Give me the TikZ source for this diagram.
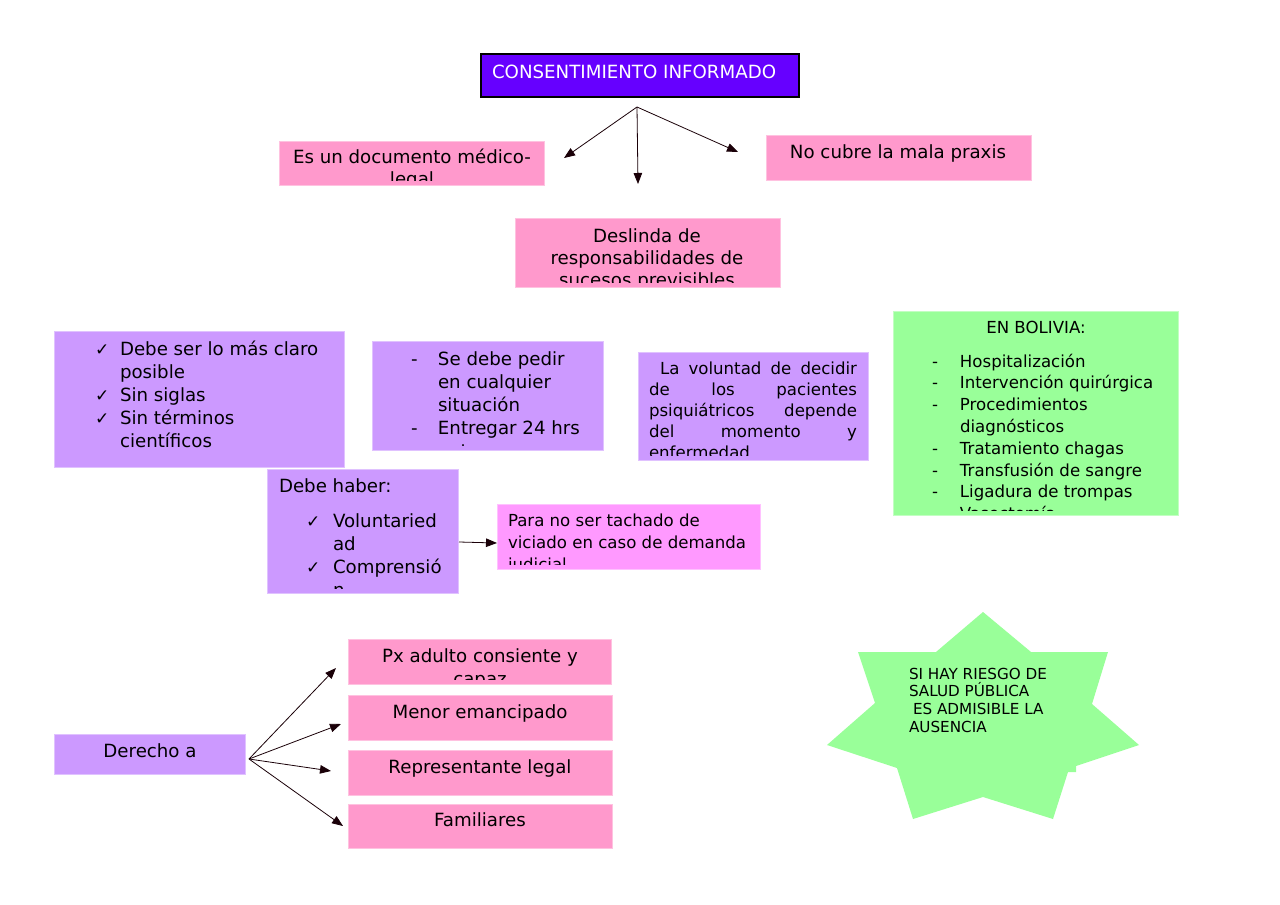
\documentclass[tikz,border=0pt]{standalone}
\usepackage{fontspec}
\setmainfont{DejaVu Sans}
\usetikzlibrary{arrows.meta}
\definecolor{titlecol}{HTML}{6600FF}
\definecolor{pinkc}{HTML}{FF99CC}
\definecolor{lilac}{HTML}{CC99FF}
\definecolor{magc}{HTML}{FF99FF}
\definecolor{greenc}{HTML}{99FF99}
\definecolor{arrcol}{HTML}{1A0008}
\newcommand{\FBig}{\fontsize{18.2}{22.7}\selectfont}
\newcommand{\FSmall}{\fontsize{16.6}{21.8}\selectfont}
\newcommand{\FStar}{\fontsize{15.2}{17.7}\selectfont}
\newcommand{\ck}{{\fontsize{17}{17}\selectfont ✓}}
\newcommand{\cliptext}[1]{\clip (#1.north west) rectangle ([yshift=5pt]#1.south east);}
\tikzset{
  boxc/.style={inner sep=0pt, outer sep=0pt, anchor=north west},
  pinkbox/.style={boxc, fill=pinkc, draw=pinkc!60!white, line width=0.8pt},
  lilacbox/.style={boxc, fill=lilac, draw=lilac!60!white, line width=0.8pt},
  magbox/.style={boxc, fill=magc, draw=magc!60!white, line width=0.8pt},
  greenbox/.style={boxc, fill=greenc, draw=greenc!60!white, line width=0.8pt},
  titlebox/.style={boxc, fill=titlecol, draw=black, line width=1.2pt},
  txt/.style={inner sep=0pt, outer sep=0pt, text=black},
  arr/.style={draw=arrcol, line width=0.8pt, -{Triangle[length=11pt,width=8.5pt]}},
}
\begin{document}
\begin{tikzpicture}[x=1pt,y=-1pt]
\useasboundingbox[fill=white] (0,0) rectangle (1280,905);

% ---------- title ----------
\node[titlebox, minimum width=318pt, minimum height=43pt] (title) at (481,54) {};
\node[txt, text=white, anchor=base west] (titleT) at (492,78) {\FBig CONSENTIMIENTO INFORMADO};

% ---------- first level ----------
\node[pinkbox, minimum width=265pt, minimum height=44pt] (doc) at (279,141) {};
\begin{scope}
\cliptext{doc}
\node[txt, anchor=base] (docT) at (412,163) {\parbox[t]{265pt}{\FBig\centering Es un documento médico-\\ legal}};
\end{scope}

\node[pinkbox, minimum width=265pt, minimum height=45pt] (nocubre) at (766,135) {};
\node[txt, anchor=base] (nocubreT) at (898,158) {\FBig No cubre la mala praxis};

\node[pinkbox, minimum width=265pt, minimum height=69pt] (deslinda) at (515,218) {};
\begin{scope}
\cliptext{deslinda}
\node[txt, anchor=base] (deslindaT) at (647,242) {\parbox[t]{265pt}{\FBig\baselineskip=22pt\centering Deslinda de\\ responsabilidades de\\ sucesos previsibles}};
\end{scope}

\coordinate (ci) at (637,107);
\coordinate (ciL) at (564,158);
\coordinate (ciM) at (638,184);
\coordinate (ciR) at (738,152);
\draw[arr] (ci) -- (ciL);
\draw[arr] (ci) -- (ciM);
\draw[arr] (ci) -- (ciR);

% ---------- middle row ----------
\node[lilacbox, minimum width=290pt, minimum height=136pt] (claro) at (54,331) {};
\begin{scope}
\cliptext{claro}
\node[txt, anchor=base west] (claroT) at (95,355) {\parbox[t]{240pt}{\FBig\baselineskip=23pt\raggedright
\makebox[25pt][l]{\ck}Debe ser lo más claro\\
\hspace*{25pt}posible\\
\makebox[25pt][l]{\ck}Sin siglas\\
\makebox[25pt][l]{\ck}Sin términos\\
\hspace*{25pt}científicos}};
\end{scope}

\node[lilacbox, minimum width=231pt, minimum height=109pt] (pedir) at (372,341) {};
\begin{scope}
\cliptext{pedir}
\node[txt, anchor=base west] (pedirT) at (411,365) {\parbox[t]{190pt}{\FBig\baselineskip=23pt\raggedright
\makebox[27pt][l]{-}Se debe pedir\\
\hspace*{27pt}en cualquier\\
\hspace*{27pt}situación\\
\makebox[27pt][l]{-}Entregar 24 hrs\\
\hspace*{27pt}antes}};
\end{scope}

\node[lilacbox, minimum width=230pt, minimum height=108pt] (voluntad) at (638,352) {};
\begin{scope}
\cliptext{voluntad}
\node[txt, anchor=base west] (voluntadT) at (649,374) {\parbox[t]{208pt}{\FSmall\baselineskip=21pt
\hspace*{11pt}La voluntad de decidir\linebreak
de los pacientes\linebreak
psiquiátricos depende\linebreak
del momento y\linebreak
enfermedad}};
\end{scope}

\node[greenbox, minimum width=285pt, minimum height=204pt] (bolivia) at (893,311) {};
\begin{scope}
\cliptext{bolivia}
\node[txt, anchor=base] (boliviaH) at (1036,333) {\FSmall EN BOLIVIA:};
\node[txt, anchor=base west] (boliviaT) at (932,367) {\parbox[t]{240pt}{\FSmall\baselineskip=21.8pt\raggedright
\makebox[28pt][l]{-}Hospitalización\\
\makebox[28pt][l]{-}Intervención quirúrgica\\
\makebox[28pt][l]{-}Procedimientos\\
\hspace*{28pt}diagnósticos\\
\makebox[28pt][l]{-}Tratamiento chagas\\
\makebox[28pt][l]{-}Transfusión de sangre\\
\makebox[28pt][l]{-}Ligadura de trompas\\
\makebox[28pt][l]{-}Vasectomía}};
\end{scope}

\node[lilacbox, minimum width=191pt, minimum height=124pt] (haber) at (267,469) {};
\begin{scope}
\cliptext{haber}
\node[txt, anchor=base west] (haberH) at (279,492) {\FBig Debe haber:};
\node[txt, anchor=base west] (haberT) at (306,527) {\parbox[t]{150pt}{\FBig\baselineskip=23pt\raggedright
\makebox[27pt][l]{\ck}Voluntaried\\
\hspace*{27pt}ad\\
\makebox[27pt][l]{\ck}Comprensió\\
\hspace*{27pt}n}};
\end{scope}

\node[magbox, minimum width=263pt, minimum height=65pt] (viciado) at (497,504) {};
\begin{scope}
\cliptext{viciado}
\node[txt, anchor=base west] (viciadoT) at (508,526) {\parbox[t]{250pt}{\FSmall\baselineskip=22pt\raggedright
Para no ser tachado de\\
viciado en caso de demanda\\
judicial}};
\end{scope}

\coordinate (hbA) at (459,542);
\coordinate (hbB) at (497,543);
\draw[arr] (hbA) -- (hbB);

% ---------- bottom ----------
\node[lilacbox, minimum width=191pt, minimum height=40pt] (derecho) at (54,734) {};
\node[txt, anchor=base] (derechoT) at (150,757) {\FBig Derecho a};

\node[pinkbox, minimum width=263pt, minimum height=45pt] (px) at (348,639) {};
\begin{scope}
\cliptext{px}
\node[txt, anchor=base] (pxT) at (480,662) {\parbox[t]{263pt}{\FBig\baselineskip=23pt\centering Px adulto consiente y\\ capaz}};
\end{scope}

\node[pinkbox, minimum width=264pt, minimum height=45pt] (menor) at (348,695) {};
\node[txt, anchor=base] (menorT) at (480,718) {\FBig Menor emancipado};

\node[pinkbox, minimum width=264pt, minimum height=45pt] (repr) at (348,750) {};
\node[txt, anchor=base] (reprT) at (480,773) {\FBig Representante legal};

\node[pinkbox, minimum width=264pt, minimum height=44pt] (fam) at (348,804) {};
\node[txt, anchor=base] (famT) at (480,826) {\FBig Familiares};

\coordinate (dr) at (249,759);
\coordinate (drA) at (336,668);
\coordinate (drB) at (341,724);
\coordinate (drC) at (331,771);
\coordinate (drD) at (343,826);
\draw[arr] (dr) -- (drA);
\draw[arr] (dr) -- (drB);
\draw[arr] (dr) -- (drC);
\draw[arr] (dr) -- (drD);

% ---------- star ----------
\fill[greenc] (983,612) -- (1031,652) -- (1108,652) -- (1092,704) -- (1139,745)
  -- (1076,766) -- (1076,772) -- (1068,772) -- (1053,819) -- (983,797) -- (913,819)
  -- (897,768) -- (827,745) -- (875,703) -- (858,652) -- (936,652) -- cycle;
\node[txt, anchor=base west] (starT) at (909,679) {\parbox[t]{160pt}{\FStar\baselineskip=17.7pt\raggedright
SI HAY RIESGO DE\\
SALUD PÚBLICA\\
\hspace*{4pt}ES ADMISIBLE LA\\
AUSENCIA}};
\end{tikzpicture}
\end{document}
